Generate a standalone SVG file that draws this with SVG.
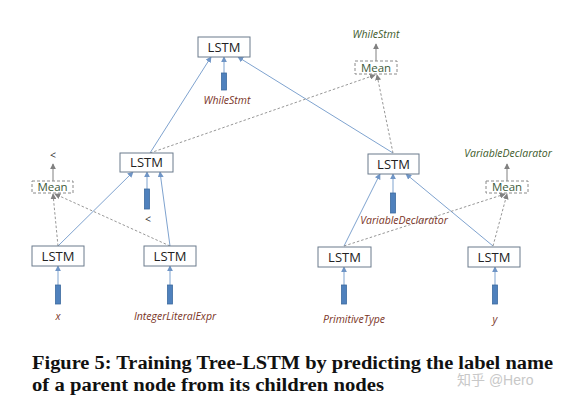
<svg xmlns="http://www.w3.org/2000/svg" width="565" height="405" viewBox="0 0 565 405">
<defs>
<marker id="ab" viewBox="0 0 8 8" refX="7" refY="4" markerWidth="6" markerHeight="6" orient="auto" markerUnits="userSpaceOnUse"><path d="M0,0 L8,4 L0,8 z" fill="#6f95c6"/></marker>
<marker id="ag" viewBox="0 0 8 8" refX="7" refY="4" markerWidth="6" markerHeight="6" orient="auto" markerUnits="userSpaceOnUse"><path d="M0,0 L8,4 L0,8 z" fill="#808080"/></marker>
<style>
.box{fill:#fff;stroke:#6b7b8c;stroke-width:1}
.mean{fill:#fff;stroke:#8a8a8a;stroke-width:1;stroke-dasharray:3,2}
.bar{fill:#4f81bd;stroke:#3c6a9e;stroke-width:0.8}
.lt{font-family:"Open Sans","Liberation Sans",sans-serif;font-size:13px;fill:#222;text-anchor:middle}
.mt{font-family:"Open Sans","Liberation Sans",sans-serif;font-size:11.5px;fill:#3d5a3a;text-anchor:middle}
.in{font-family:"Open Sans","Liberation Sans",sans-serif;font-size:10.5px;font-style:italic;fill:#7a3426;text-anchor:middle}
.out{font-family:"Open Sans","Liberation Sans",sans-serif;font-size:10.5px;font-style:italic;fill:#3d5a2a;text-anchor:middle}
.sb{stroke:#7fa3cf;stroke-width:1;fill:none;marker-end:url(#ab)}
.dg{stroke:#8a8a8a;stroke-width:0.9;stroke-dasharray:2.5,2;fill:none;marker-end:url(#ag)}
.sg{stroke:#808080;stroke-width:1;fill:none;marker-end:url(#ag)}
.cap{font-family:"Liberation Serif",serif;font-weight:bold;font-size:18px;fill:#111}
</style>
</defs>
<rect width="565" height="405" fill="#fff"/>
<g id="connectors">
<line class="sb" x1="150" y1="153" x2="211" y2="57"/>
<line class="sb" x1="224" y1="73" x2="224" y2="57"/>
<line class="sb" x1="393" y1="153" x2="238" y2="57"/>
<line class="dg" x1="150" y1="153" x2="375" y2="75"/>
<line class="dg" x1="393" y1="153" x2="377" y2="75"/>
<line class="sg" x1="376" y1="61" x2="376" y2="44"/>
<line class="sb" x1="58" y1="246" x2="133" y2="172"/>
<line class="sb" x1="147" y1="189" x2="147" y2="172"/>
<line class="sb" x1="170" y1="246" x2="160" y2="172"/>
<line class="dg" x1="58" y1="246" x2="53" y2="194"/>
<line class="dg" x1="170" y1="246" x2="55" y2="194"/>
<line class="sg" x1="53" y1="181" x2="53" y2="164"/>
<line class="sb" x1="344" y1="246" x2="380" y2="174"/>
<line class="sb" x1="393" y1="193" x2="393" y2="174"/>
<line class="sb" x1="493" y1="246" x2="406" y2="174"/>
<line class="dg" x1="344" y1="246" x2="505" y2="194"/>
<line class="dg" x1="493" y1="246" x2="507" y2="194"/>
<line class="sg" x1="507" y1="181" x2="507" y2="164"/>
<line class="sb" x1="58" y1="285" x2="58" y2="266"/>
<line class="sb" x1="170" y1="285" x2="170" y2="266"/>
<line class="sb" x1="344" y1="285" x2="344" y2="267"/>
<line class="sb" x1="495" y1="285" x2="495" y2="267"/>
</g>
<g id="lstm-top"><rect class="box" x="198" y="37" width="52" height="20"/><text class="lt" x="224" y="51.5">LSTM</text></g>
<g id="bar-top"><rect class="bar" x="221.5" y="73" width="5" height="17"/><text class="in" x="227" y="104">WhileStmt</text></g>
<g id="mean-top"><rect class="mean" x="355" y="61" width="42" height="13"/><text class="mt" x="376" y="71.5">Mean</text><text class="out" x="376" y="38">WhileStmt</text></g>
<g id="lstm-ml"><rect class="box" x="120" y="153" width="53" height="19"/><text class="lt" x="146.5" y="167">LSTM</text></g>
<g id="bar-ml"><rect class="bar" x="144.5" y="189" width="5" height="20"/><text class="in" x="148" y="223" style="fill:#333;font-style:normal">&lt;</text></g>
<g id="mean-l"><rect class="mean" x="32" y="181" width="41" height="12"/><text class="mt" x="52.5" y="191">Mean</text><text class="out" x="53" y="159" style="fill:#333;font-style:normal">&lt;</text></g>
<g id="lstm-mr"><rect class="box" x="368" y="154" width="51" height="20"/><text class="lt" x="393.5" y="168.5">LSTM</text></g>
<g id="bar-mr"><rect class="bar" x="390.5" y="193" width="5" height="20"/><text class="in" x="404" y="224">VariableDeclarator</text></g>
<g id="mean-r"><rect class="mean" x="486" y="181" width="42" height="12"/><text class="mt" x="507" y="191">Mean</text><text class="out" x="508" y="157">VariableDeclarator</text></g>
<g id="lstm-b1"><rect class="box" x="32" y="246" width="52" height="20"/><text class="lt" x="58" y="260.5">LSTM</text></g>
<g id="lstm-b2"><rect class="box" x="144" y="246" width="52" height="20"/><text class="lt" x="170" y="260.5">LSTM</text></g>
<g id="lstm-b3"><rect class="box" x="318" y="247" width="53" height="20"/><text class="lt" x="344.5" y="261.5">LSTM</text></g>
<g id="lstm-b4"><rect class="box" x="468" y="247" width="52" height="20"/><text class="lt" x="494" y="261.5">LSTM</text></g>
<g id="bar-b1"><rect class="bar" x="55.5" y="285" width="5" height="19"/><text class="in" x="58" y="320">x</text></g>
<g id="bar-b2"><rect class="bar" x="167.5" y="285" width="5" height="19"/><text class="in" x="175" y="320">IntegerLiteralExpr</text></g>
<g id="bar-b3"><rect class="bar" x="341.5" y="285" width="5" height="19"/><text class="in" x="354" y="323">PrimitiveType</text></g>
<g id="bar-b4"><rect class="bar" x="492.5" y="285" width="5" height="19"/><text class="in" x="495" y="323">y</text></g>
<text class="cap" x="32" y="369" textLength="521" lengthAdjust="spacingAndGlyphs">Figure 5: Training Tree-LSTM by predicting the label name</text>
<text class="cap" x="32" y="391" textLength="352" lengthAdjust="spacingAndGlyphs">of a parent node from its children nodes</text>
<text x="457" y="385" font-family="Liberation Sans,Noto Sans CJK SC,sans-serif" font-size="14" fill="#c8c8c8">知乎 @Hero</text>
</svg>
